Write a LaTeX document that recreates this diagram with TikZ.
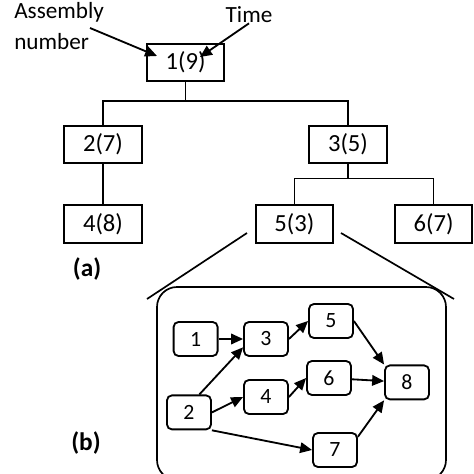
\documentclass[tikz,border=0pt]{standalone}
\usepackage{fontspec}
\setmainfont{Carlito}
\usetikzlibrary{arrows.meta,positioning}
\begin{document}
\begin{tikzpicture}[asm/.style={draw=black, line width=1.4pt, minimum width=1.93cm, minimum height=0.93cm, inner sep=0pt, font=\fontsize{17.5}{19}\selectfont}, task/.style={draw=black, line width=1.3pt, rounded corners=3.5pt, minimum width=1.1cm, minimum height=0.85cm, inner sep=0pt, font=\fontsize{15.5}{17}\selectfont}, note/.style={font=\fontsize{16.5}{22.5}\selectfont, align=left, inner sep=0pt}, arr/.style={-{Triangle[length=8.5pt, width=7.5pt]}, line width=1.3pt}, link/.style={line width=1.2pt}, lbl/.style={font=\bfseries\fontsize{18}{20}\selectfont}]
\useasboundingbox (0,0) rectangle (11.85,11.85); \clip (0,0) rectangle (11.85,11.85);
\node[note, anchor=west] (asm) at (0.35,11.2) {Assembly\\number}; \node[note] (time) at (6.225,11.475) {Time};
\node[asm] (n1) at (4.64,10.29) {1(9)}; \node[asm] (n2) at (2.575,8.24) {2(7)}; \node[asm] (n3) at (8.7,8.24) {3(5)}; \node[asm] (n4) at (2.575,6.25) {4(8)}; \node[asm] (n5) at (7.36,6.25) {5(3)}; \node[asm] (n6) at (10.84,6.25) {6(7)};
\coordinate (asm tail) at (2.25,11.15); \coordinate (asm tip) at (3.925,10.45); \coordinate (time tip) at (5.0,10.425);
\draw[arr] (asm tail) -- (asm tip); \draw[arr] (time.south) -- (time tip);
\draw[link] (n1.south) -- ++(0,-0.475) coordinate (j1); \draw[link] (n2.north) |- (j1) -| (n3.north); \draw[link] (n2) -- (n4); \draw[link] (n3.south) -- ++(0,-0.36) coordinate (j3); \draw[link] (n5.north) |- (j3) -| (n6.north);
\node[lbl] (la) at (2.175,5.125) {(a)}; \node[lbl] (lb) at (2.15,0.775) {(b)};
% zoom into 5(3)
\coordinate (z1) at (6.175,6.025); \coordinate (z2) at (3.675,4.375); \coordinate (z3) at (8.525,6.025); \coordinate (z4) at (11.35,4.375);
\draw[link] (z1) -- (z2); \draw[link] (z3) -- (z4); \draw[link, rounded corners=0.5cm] (3.925,-0.15) rectangle (11.15,4.675);
\node[task] (s1) at (4.89,3.375) {1}; \node[task] (s3) at (6.65,3.375) {3}; \node[task] (s5) at (8.275,3.825) {5}; \node[task] (s6) at (8.225,2.4) {6}; \node[task] (s4) at (6.65,1.925) {4}; \node[task] (s2) at (4.725,1.54) {2}; \node[task] (s7) at (8.375,0.6) {7}; \node[task] (s8) at (10.175,2.29) {8};
\draw[arr] (s1) -- (s3); \draw[arr] (s3.east) -- (s5.west); \draw[arr] (s2.60) -- (s3.200); \draw[arr] (s2.east) -- (s4.west); \draw[arr] (s4.east) -- (s6.west); \draw[arr] (s6) -- (s8); \draw[arr] (s5.east) -- (s8.north west); \draw[arr] (s2.south east) -- (s7.west); \draw[arr] (s7.30) -- (s8.south west);
\end{tikzpicture}
\end{document}
